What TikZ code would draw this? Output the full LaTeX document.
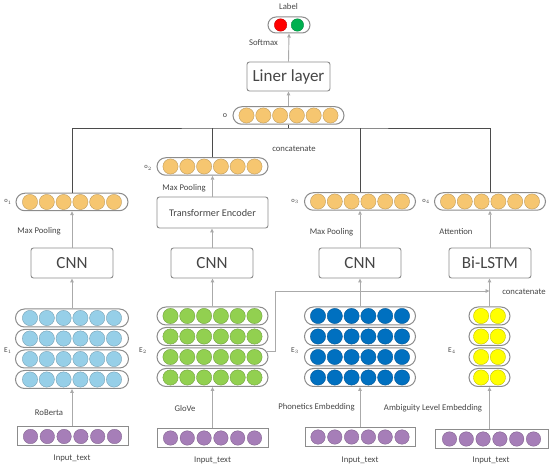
\documentclass[tikz,border=0pt]{standalone}
\usepackage{fontspec}
\setmainfont{Carlito}
\usetikzlibrary{arrows.meta,calc,shapes.misc}
\definecolor{orng}{RGB}{246,198,112}
\definecolor{lblue}{RGB}{150,207,232}
\definecolor{lgreen}{RGB}{146,208,80}
\definecolor{dblue}{RGB}{0,112,192}
\definecolor{yel}{RGB}{255,255,0}
\definecolor{purp}{RGB}{166,126,184}
\definecolor{redc}{RGB}{255,0,0}
\definecolor{grnc}{RGB}{0,176,80}
\definecolor{pillgray}{RGB}{140,140,140}
\definecolor{arrgray}{RGB}{170,170,170}
\definecolor{darkl}{RGB}{75,75,75}
\definecolor{txt}{RGB}{70,70,70}
\newcommand\dotrow[8]{%
  \node[#8, minimum width=#6pt] (#1) at (#2,#3) {};
  \foreach \i in {1,...,#4}{
    \node[dot, fill=#5, draw=#5!75!black, minimum size=#7pt] (#1-\i) at ({#2+(\i-(#4+1)/2)*16.8},#3) {};
  }
}
\begin{document}
\begin{tikzpicture}[x=1pt,y=-1pt,
  pill/.style={rounded rectangle, draw=pillgray, line width=1pt, inner sep=0pt, fill=white},
  inbox/.style={rectangle, draw=pillgray, line width=1pt, inner sep=0pt, fill=white, minimum height=19pt},
  dot/.style={circle, line width=0.35pt, inner sep=0pt},
  boxbig/.style={rectangle, rounded corners=2.5pt, draw=pillgray, line width=0.9pt, fill=white, text=txt, inner sep=0pt, font=\fontsize{17}{20}\selectfont},
  small/.style={text=txt, inner sep=0pt, font=\fontsize{8.7}{10}\selectfont},
  tiny/.style={text=txt, inner sep=0pt, font=\fontsize{6.5}{7}\selectfont},
  arr/.style={draw=arrgray, line width=0.9pt, -{Triangle[length=4pt,width=3.5pt]}},
  darkline/.style={draw=darkl, line width=0.9pt}
]
\useasboundingbox (0,0) rectangle (550,468);

% ---- top part
\node[pill, minimum width=42pt, minimum height=16pt] (lab) at (289,25) {};
\node[dot, fill=redc, draw=redc!75!black, minimum size=12.5pt] (lab-1) at (280.6,25) {};
\node[dot, fill=grnc, draw=grnc!75!black, minimum size=12.5pt] (lab-2) at (297.4,25) {};
\node[small] (tlabel) at (288.5,7) {Label};
\node[small] (tsoft) at (263.5,43) {Softmax};
\node[boxbig, minimum width=83pt, minimum height=29pt] (liner) at (288.5,76.5) {Liner layer};
\dotrow{otop}{288.5}{115.5}{6}{orng}{111}{15.2}{pill, minimum height=17.5pt}
\node[small, font=\fontsize{8}{9}\selectfont] (to) at (225,116) {o};
\node[small] (tconc) at (294,149) {concatenate};

% ---- o rows
\dotrow{o1}{72}{202}{6}{orng}{112}{15.2}{pill, minimum height=17.5pt}
\dotrow{o2}{212.5}{166.5}{6}{orng}{111}{15.2}{pill, minimum height=17.5pt}
\dotrow{o3}{360}{201.5}{6}{orng}{111}{15.2}{pill, minimum height=17.5pt}
\dotrow{o4}{490}{201.5}{6}{orng}{111}{15.2}{pill, minimum height=17.5pt}
\node[tiny] (to1) at (8,202) {$\mathrm{o}_1$};
\node[tiny] (to2) at (148,168) {$\mathrm{o}_2$};
\node[tiny] (to3) at (295,201.5) {$\mathrm{o}_3$};
\node[tiny] (to4) at (426,201.5) {$\mathrm{o}_4$};

\node[small] (mp2) at (184,188) {Max Pooling};
\node[small] (mp1) at (39,231) {Max Pooling};
\node[small] (mp3) at (331.5,232) {Max Pooling};
\node[small] (att) at (456,232) {Attention};

% ---- boxes
\node[boxbig, minimum width=111pt, minimum height=31pt, font=\fontsize{10.2}{12}\selectfont] (trans) at (212.5,212.5) {Transformer Encoder};
\node[boxbig, minimum width=82pt, minimum height=30pt] (cnn1) at (72,263) {CNN};
\node[boxbig, minimum width=82pt, minimum height=30pt] (cnn2) at (212,263) {CNN};
\node[boxbig, minimum width=82pt, minimum height=30pt] (cnn3) at (360,263) {CNN};
\node[boxbig, minimum width=82pt, minimum height=30pt] (bilstm) at (490,263) {Bi-LSTM};
\node[small] (tconc2) at (524,292) {concatenate};

% ---- embedding rows
\foreach \r/\yy in {1/318, 2/338.5, 3/359, 4/379.5}{
  \dotrow{e1r\r}{72}{\yy}{6}{lblue}{113}{15.3}{pill, minimum height=18pt}
}
\foreach \r/\yy in {1/316, 2/336.5, 3/357, 4/377.5}{
  \dotrow{e2r\r}{212.5}{\yy}{6}{lgreen}{111}{15.3}{pill, minimum height=18pt}
  \dotrow{e3r\r}{360}{\yy}{6}{dblue}{111}{15.3}{pill, minimum height=18pt}
  \dotrow{e4r\r}{489.5}{\yy}{2}{yel}{41}{15.3}{pill, minimum height=18pt}
}
\node[tiny, font=\fontsize{7.5}{8}\selectfont] (te1) at (8,351) {$\mathrm{E}_1$};
\node[tiny, font=\fontsize{7.5}{8}\selectfont] (te2) at (143,351) {$\mathrm{E}_2$};
\node[tiny, font=\fontsize{7.5}{8}\selectfont] (te3) at (295,351) {$\mathrm{E}_3$};
\node[tiny, font=\fontsize{7.5}{8}\selectfont] (te4) at (452,351) {$\mathrm{E}_4$};

\node[small] (emb1) at (49,413) {RoBerta};
\node[small] (emb2) at (185,409) {GloVe};
\node[small] (emb3) at (316.5,407) {Phonetics Embedding};
\node[small] (emb4) at (433,408) {Ambiguity Level Embedding};

% ---- inputs
\dotrow{in1}{72.5}{436.5}{6}{purp}{111}{14.5}{inbox}
\dotrow{in2}{212.5}{438}{6}{purp}{111}{14.5}{inbox}
\dotrow{in3}{360}{437}{6}{purp}{110}{14.5}{inbox}
\dotrow{in4}{491.5}{439}{6}{purp}{113}{14.5}{inbox}
\node[small] (it1) at (72,458) {Input\_text};
\node[small] (it2) at (212.5,460) {Input\_text};
\node[small] (it3) at (360,460) {Input\_text};
\node[small] (it4) at (491,460) {Input\_text};

% ---- arrows
\draw[arr] (in1.north -| e1r4.south) -- (e1r4.south);
\draw[arr] (in2.north -| e2r4.south) -- (e2r4.south);
\draw[arr] (in3.north -| e3r4.south) -- (e3r4.south);
\draw[arr] (in4.north -| e4r4.south) -- (e4r4.south);
\draw[arr] (e1r1.north) -- (cnn1.south -| e1r1.north);
\draw[arr] (e2r1.north) -- (cnn2.south -| e2r1.north);
\draw[arr] (e3r1.north) -- (cnn3.south);
\draw[arr] (e4r1.north) -- (bilstm.south -| e4r1.north);
\draw[arr] (cnn1.north) -- (o1.south -| cnn1.north);
\draw[arr] (cnn2.north) -- (trans.south -| cnn2.north);
\draw[arr] (trans.north) -- (o2.south);
\draw[arr] (cnn3.north) -- (o3.south);
\draw[arr] (bilstm.north) -- (o4.south);
\draw[arr] (otop.north) -- (liner.south);
\draw[arr] (liner.north) -- (lab.south);

% concatenate connector
\coordinate (cbend) at (275,351);
\coordinate (cj) at (489.5,291);
\draw[arr] ($(e2r3.east)+(-2,-6)$) -- (cbend) |- (cj);

% ---- dark connectors
\coordinate (hbar) at (288.5,128);
\draw[darkline] (o1.north) |- (hbar) -| (o4.north);
\draw[darkline] (o2.north) -- (o2.north |- hbar);
\draw[darkline] (o3.north) -- (o3.north |- hbar);
\draw[darkline] (otop.south) -- (hbar);
\end{tikzpicture}
\end{document}
